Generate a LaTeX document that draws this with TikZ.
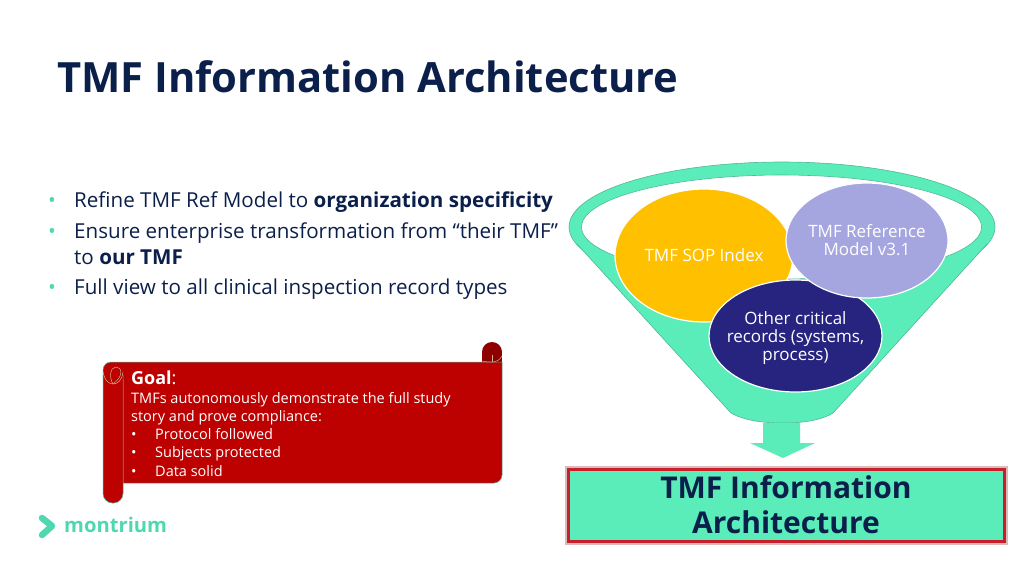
\documentclass[tikz,border=0pt]{standalone}
\usepackage{fontspec}
\setmainfont{Open Sans}
\usetikzlibrary{shapes.geometric}
\definecolor{mint}{HTML}{5BEDB9}
\definecolor{mintline}{HTML}{4FB79A}
\definecolor{navy}{HTML}{0B1F4B}
\definecolor{scrollred}{HTML}{BD0000}
\definecolor{scrolldark}{HTML}{8E0000}
\definecolor{scrollline}{HTML}{C9B48C}
\definecolor{bullet}{HTML}{4FD8B0}
\definecolor{sopyellow}{HTML}{FFC000}
\definecolor{recnavy}{HTML}{26247F}
\definecolor{reflilac}{HTML}{A5A5E0}
\definecolor{boxred}{HTML}{C8202A}
\tikzset{
  blob/.style={ellipse,draw=white,line width=1.2pt,inner xsep=-8pt,inner ysep=0pt,text=white,align=center,font=\fontsize{17}{18}\selectfont},
  bodytext/.style={anchor=base west,inner sep=0pt,text=navy,font=\fontsize{20.6}{23}\selectfont},
  dot/.style={anchor=base west,inner sep=0pt,text=bullet,font=\fontsize{20.6}{23}\selectfont},
  goaltext/.style={anchor=base west,inner sep=0pt,text=white,font=\fontsize{14.5}{16}\selectfont},
}
\begin{document}
\begin{tikzpicture}[x=1pt,y=-1pt]
\useasboundingbox (0,0) rectangle (1024,576);
\node[anchor=base west,inner sep=0pt,text=navy,font=\fontsize{41.7}{50}\selectfont\bfseries] (title) at (57,92) {TMF Information Architecture};
% bullets
\node[dot] (d1) at (48,207) {•};
\node[dot] (d2) at (48,238) {•};
\node[dot] (d3) at (48,294) {•};
\node[bodytext] (l1) at (74,207) {Refine TMF Ref Model to \textbf{organization specificity}};
\node[bodytext] (l2) at (74,238) {Ensure enterprise transformation from “their TMF”};
\node[bodytext] (l3) at (74,264) {to \textbf{our TMF}};
\node[bodytext] (l4) at (74,294) {Full view to all clinical inspection record types};
% scroll
\fill[scrolldark] (492,352) circle[radius=10];
\fill[scrolldark] (482,352) rectangle (502,363);
\filldraw[scrollred,draw=mintline,line width=.5pt] (103,380) [rounded corners=8pt]--(103,362) [sharp corners]--(502,362) [rounded corners=8pt]--(502,483) [sharp corners]--(123,483)--(123,380)--cycle;
\filldraw[scrollred,draw=mintline,line width=.5pt,rounded corners=9.5pt] (103,375)--(103,503)--(123,503)--(123,375);
\draw[scrollline,line width=.5pt] (103,372) .. controls (105,382) and (110,384) .. (113,384) .. controls (118,384) and (122,380) .. (123,372);
\draw[scrollline,line width=.5pt] (113,384) .. controls (109,378) and (110,367) .. (116,367) .. controls (122,367) and (124,376) .. (113,384);
\draw[scrollline,line width=.5pt] (482,361) .. controls (486,362) and (490,362) .. (492,362) .. controls (496,362) and (500,360) .. (502,356);
\draw[scrollline,line width=.5pt] (492,362)--(492,355);
\node[goaltext,font=\fontsize{18}{20}\selectfont] (goal) at (131,384) {\textbf{Goal}:};
\node[goaltext] (g1) at (131,403) {TMFs autonomously demonstrate the full study};
\node[goaltext] (g2) at (131,421) {story and prove compliance:};
\node[goaltext] (b1) at (131,439) {•};
\node[goaltext] (b2) at (131,457) {•};
\node[goaltext] (b3) at (131,476) {•};
\node[goaltext] (g3) at (155,439) {Protocol followed};
\node[goaltext] (g4) at (155,457) {Subjects protected};
\node[goaltext] (g5) at (155,476) {Data solid};
% logo
\draw[bullet,line width=6.5pt,line cap=round,line join=round] (42,518)--(52,526)--(42,535);
\node[anchor=base west,inner sep=0pt,text=bullet,font=\fontsize{20.2}{26}\selectfont\bfseries] (logo) at (64,532) {montrium};
% funnel
\filldraw[mint,draw=mintline,line width=.6pt] (782,227) ellipse[x radius=213,y radius=65];
\fill[mint] (577,244)--(731,413) .. controls (745,421) and (765,423) .. (783,423) .. controls (800,423) and (820,421) .. (833,413)--(987,244)--cycle;
\draw[mintline,line width=.6pt] (577,244)--(731,413) .. controls (745,421) and (765,423) .. (783,423) .. controls (800,423) and (820,421) .. (833,413)--(987,244);
\filldraw[white,draw=mintline,line width=.6pt] (781.5,227) ellipse[x radius=200,y radius=52];
\node[blob,fill=sopyellow,minimum width=178pt,minimum height=133pt] (sop) at (704,255.5) {TMF SOP Index};
\node[blob,fill=recnavy,minimum width=173pt,minimum height=112pt] (other) at (795.5,336) {\rule{0pt}{17pt}Other critical\\records (systems,\\process)};
\node[blob,fill=reflilac,minimum width=162pt,minimum height=115pt] (ref) at (867,240.5) {TMF Reference\\Model v3.1};
% arrow
\fill[mint] (763,423)--(800,423)--(800,443)--(815,443)--(783,458)--(750,443)--(763,443)--cycle;
% result
\node[draw=boxred,line width=3pt,fill=mint,minimum width=436pt,minimum height=72pt,inner sep=0pt,align=center,text=navy,font=\fontsize{30}{35}\selectfont\bfseries,
  preaction={draw=boxred!70!black,line width=7pt,opacity=.3}] (box) at (786,505) {TMF Information\\Architecture};
\end{tikzpicture}
\end{document}
